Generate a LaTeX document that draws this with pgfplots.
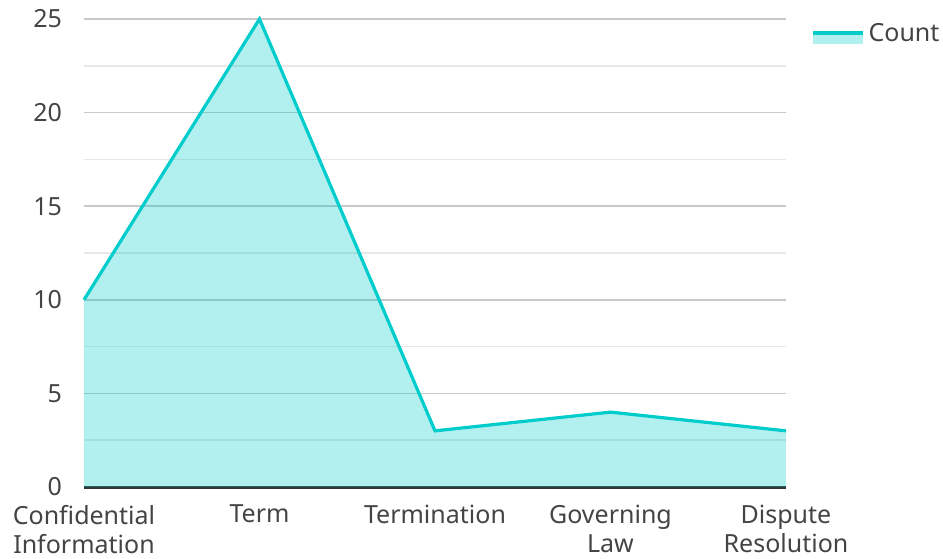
\documentclass[border=0pt]{standalone}
\usepackage{fontspec}
\setmainfont{Noto Sans}
\usepackage{pgfplots}
\pgfplotsset{compat=1.18}
\definecolor{lineC}{RGB}{0,204,204}
\definecolor{gridMaj}{RGB}{200,200,200}
\definecolor{gridMin}{RGB}{232,232,232}
\definecolor{txt}{RGB}{68,68,68}
\begin{document}
\begin{tikzpicture}
\begin{axis}[
  scale only axis,
  width=351pt, height=234pt,
  xmin=0, xmax=4, ymin=0, ymax=25,
  axis x line*=bottom,
  axis y line*=left,
  x axis line style={draw=black!80, line width=1.5pt, -},
  y axis line style={draw=none},
  xtick={0,1,2,3,4},
  xticklabels={{Confidential\\Information},{Term},{Termination},{Governing\\Law},{Dispute\\Resolution}},
  ytick={0,5,10,15,20,25},
  minor y tick num=1,
  ymajorgrids, yminorgrids,
  major grid style={draw=gridMaj, line width=0.75pt},
  minor grid style={draw=gridMin, line width=0.75pt},
  major tick length=0pt, minor tick length=0pt,
  tick label style={font=\fontsize{12.5}{14.5}\selectfont, text=txt},
  xticklabel style={align=center, yshift=-5.5pt},
  yticklabel style={xshift=-7.5pt},
  /pgf/number format/assume math mode=true,
  legend style={at={(rel axis cs:1,1)}, anchor=north west, xshift=12.5pt, yshift=0pt, draw=none, fill=none, inner sep=0pt, font=\fontsize{12.5}{15}\selectfont, text=txt},
  legend image code/.code={
    \path[fill=lineC, fill opacity=0.3, draw=none] (0pt,-5pt) rectangle (25pt,0pt);
    \path[draw=lineC, line width=1.6pt] (0pt,0.5pt) -- (25pt,0.5pt);
  },
  clip=false,
  axis on top=false,
]
\addplot[draw=none, fill=lineC, fill opacity=0.3, forget plot] coordinates {(0,10) (1,25) (2,3) (3,4) (4,3)} \closedcycle;
\addplot[draw=lineC, line width=1.6pt, mark=none] coordinates {(0,10) (1,25) (2,3) (3,4) (4,3)};
\addlegendentry{Count}
\coordinate (sw) at (rel axis cs:0,0);
\coordinate (ne) at (rel axis cs:1,1);
\end{axis}
\pgfresetboundingbox
\path[use as bounding box] ([shift={(-42pt,-35.5pt)}]sw) rectangle ([shift={(78.5pt,9.5pt)}]ne);
\end{tikzpicture}
\end{document}
